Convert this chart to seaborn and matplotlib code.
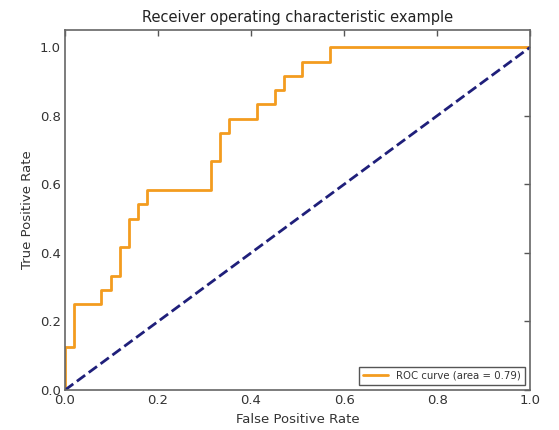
import matplotlib
matplotlib.use("Agg")
import matplotlib.pyplot as plt
import pandas as pd
import seaborn as sns

# ROC curve corners
fpr = [0.0, 0.0, 0.020, 0.020, 0.078, 0.078, 0.098, 0.098, 0.118, 0.118,
       0.137, 0.137, 0.157, 0.157, 0.176, 0.176, 0.314, 0.314, 0.333, 0.333,
       0.353, 0.353, 0.412, 0.412, 0.451, 0.451, 0.471, 0.471, 0.510, 0.510,
       0.569, 0.569, 1.0]
tpr = [0.0, 0.125, 0.125, 0.250, 0.250, 0.292, 0.292, 0.333, 0.333, 0.417,
       0.417, 0.500, 0.500, 0.542, 0.542, 0.583, 0.583, 0.667, 0.667, 0.750,
       0.750, 0.792, 0.792, 0.833, 0.833, 0.875, 0.875, 0.917, 0.917, 0.958,
       0.958, 1.0, 1.0]
roc_auc = 0.79
chance = [0.0, 1.0]

sns.set_theme(style="white")
plt.rcParams["font.family"] = ["DejaVu Sans"]
plt.rcParams["xtick.direction"] = "in"
plt.rcParams["ytick.direction"] = "in"
plt.rcParams["xtick.top"] = True
plt.rcParams["ytick.right"] = True

fig = plt.figure(figsize=(5.59, 4.30), dpi=100)
ax = fig.add_axes([0.1163, 0.093, 0.832, 0.837])

roc = pd.DataFrame({"fpr": fpr, "tpr": tpr})
sns.lineplot(data=roc, x="fpr", y="tpr", sort=False, estimator=None, ax=ax,
             color="#f39c1f", lw=2, label=f"ROC curve (area = {roc_auc:0.2f})")
sns.lineplot(x=chance, y=chance, ax=ax, color="#1f1f7a", lw=2, linestyle="--")

ax.set_xlim(0.0, 1.0)
ax.set_ylim(0.0, 1.05)
ax.set_xticks([0.0, 0.2, 0.4, 0.6, 0.8, 1.0])
ax.set_yticks([0.0, 0.2, 0.4, 0.6, 0.8, 1.0])
ax.tick_params(axis="both", which="major", length=4, width=1, color="#555555",
               labelsize=9.5, labelcolor="#333333", pad=3)
for spine in ax.spines.values():
    spine.set_color("#666666")
    spine.set_linewidth(1.2)

ax.set_xlabel("False Positive Rate", fontsize=9.5, color="#333333")
ax.set_ylabel("True Positive Rate", fontsize=9.5, color="#333333")
ax.set_title("Receiver operating characteristic example", fontsize=10.5, color="#222222")

leg = ax.legend(loc="lower right", fontsize=7.3, fancybox=False, framealpha=1,
                handlelength=2.5)
leg.get_frame().set_edgecolor("#555555")
for t in leg.get_texts():
    t.set_color("#333333")

fig.savefig("out.png", dpi=100)
